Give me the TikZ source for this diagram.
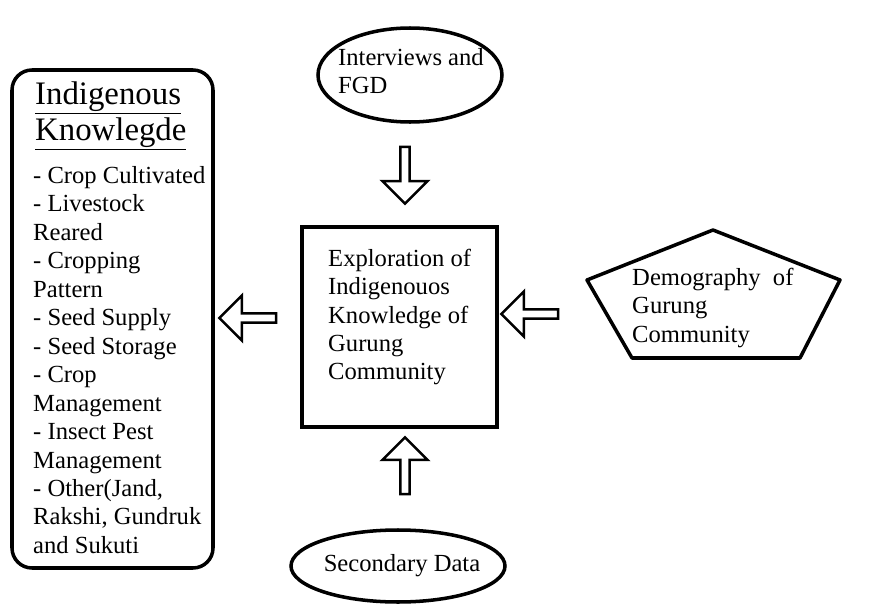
\documentclass[tikz,border=0pt]{standalone}
\usepackage{fontspec}
\setmainfont{Liberation Serif}
\usetikzlibrary{shapes.geometric,shapes.arrows}
\begin{document}
\begin{tikzpicture}[x=0.03cm,y=-0.03cm,
  thickline/.style={draw=black,line width=3pt},
  blockarrow/.style={single arrow,draw=black,line width=2.2pt,fill=white,minimum height=1.7cm,minimum width=1.35cm,single arrow head extend=0.22cm,inner sep=0.5pt},
  itemtxt/.style={font=\fontsize{21}{24.3}\selectfont,align=left,anchor=north west,inner sep=0pt},
  bodytxt/.style={font=\fontsize{21}{24.2}\selectfont,align=left,inner sep=0pt}]
\useasboundingbox (0,0) rectangle (882,614);
\draw[thickline,rounded corners=0.6cm] (12,70) rectangle (213,568);
\node[itemtxt,font=\fontsize{28}{30.5}\selectfont] (title) at (35,82) {\underline{Indigenous}\\\underline{Knowlegde}};
\node[itemtxt] (items) at (33,166) {- Crop Cultivated\\- Livestock\\Reared\\- Cropping\\Pattern\\- Seed Supply\\- Seed Storage\\- Crop\\Management\\- Insect Pest\\Management\\- Other(Jand,\\Rakshi, Gundruk\\and Sukuti};
\draw[thickline] (410,75) ellipse [x radius=92,y radius=47];
\node[bodytxt,anchor=north west] (toptxt) at (338,48) {Interviews and\\FGD};
\draw[thickline] (302,227) rectangle (497,427);
\node[bodytxt,anchor=north west] (ctr) at (328,249) {Exploration of\\Indigenouos\\Knowledge of\\Gurung\\Community};
\draw[thickline,line join=round] (713,230) -- (840,280) -- (800,358) -- (632,358) -- (587,280) -- cycle;
\node[bodytxt,anchor=north west] (demo) at (632,268) {Demography\ \ of\\Gurung\\Community};
\draw[thickline] (398,566) ellipse [x radius=107,y radius=36];
\node[bodytxt] (sec) at (402,566) {Secondary Data};
\node[blockarrow,rotate=-90] (a1) at (405,173) {};
\node[blockarrow,rotate=90] (a2) at (405,468) {};
\node[blockarrow,rotate=180] (a3) at (532,314) {};
\node[blockarrow,rotate=180] (a4) at (250,318) {};
\end{tikzpicture}
\end{document}
